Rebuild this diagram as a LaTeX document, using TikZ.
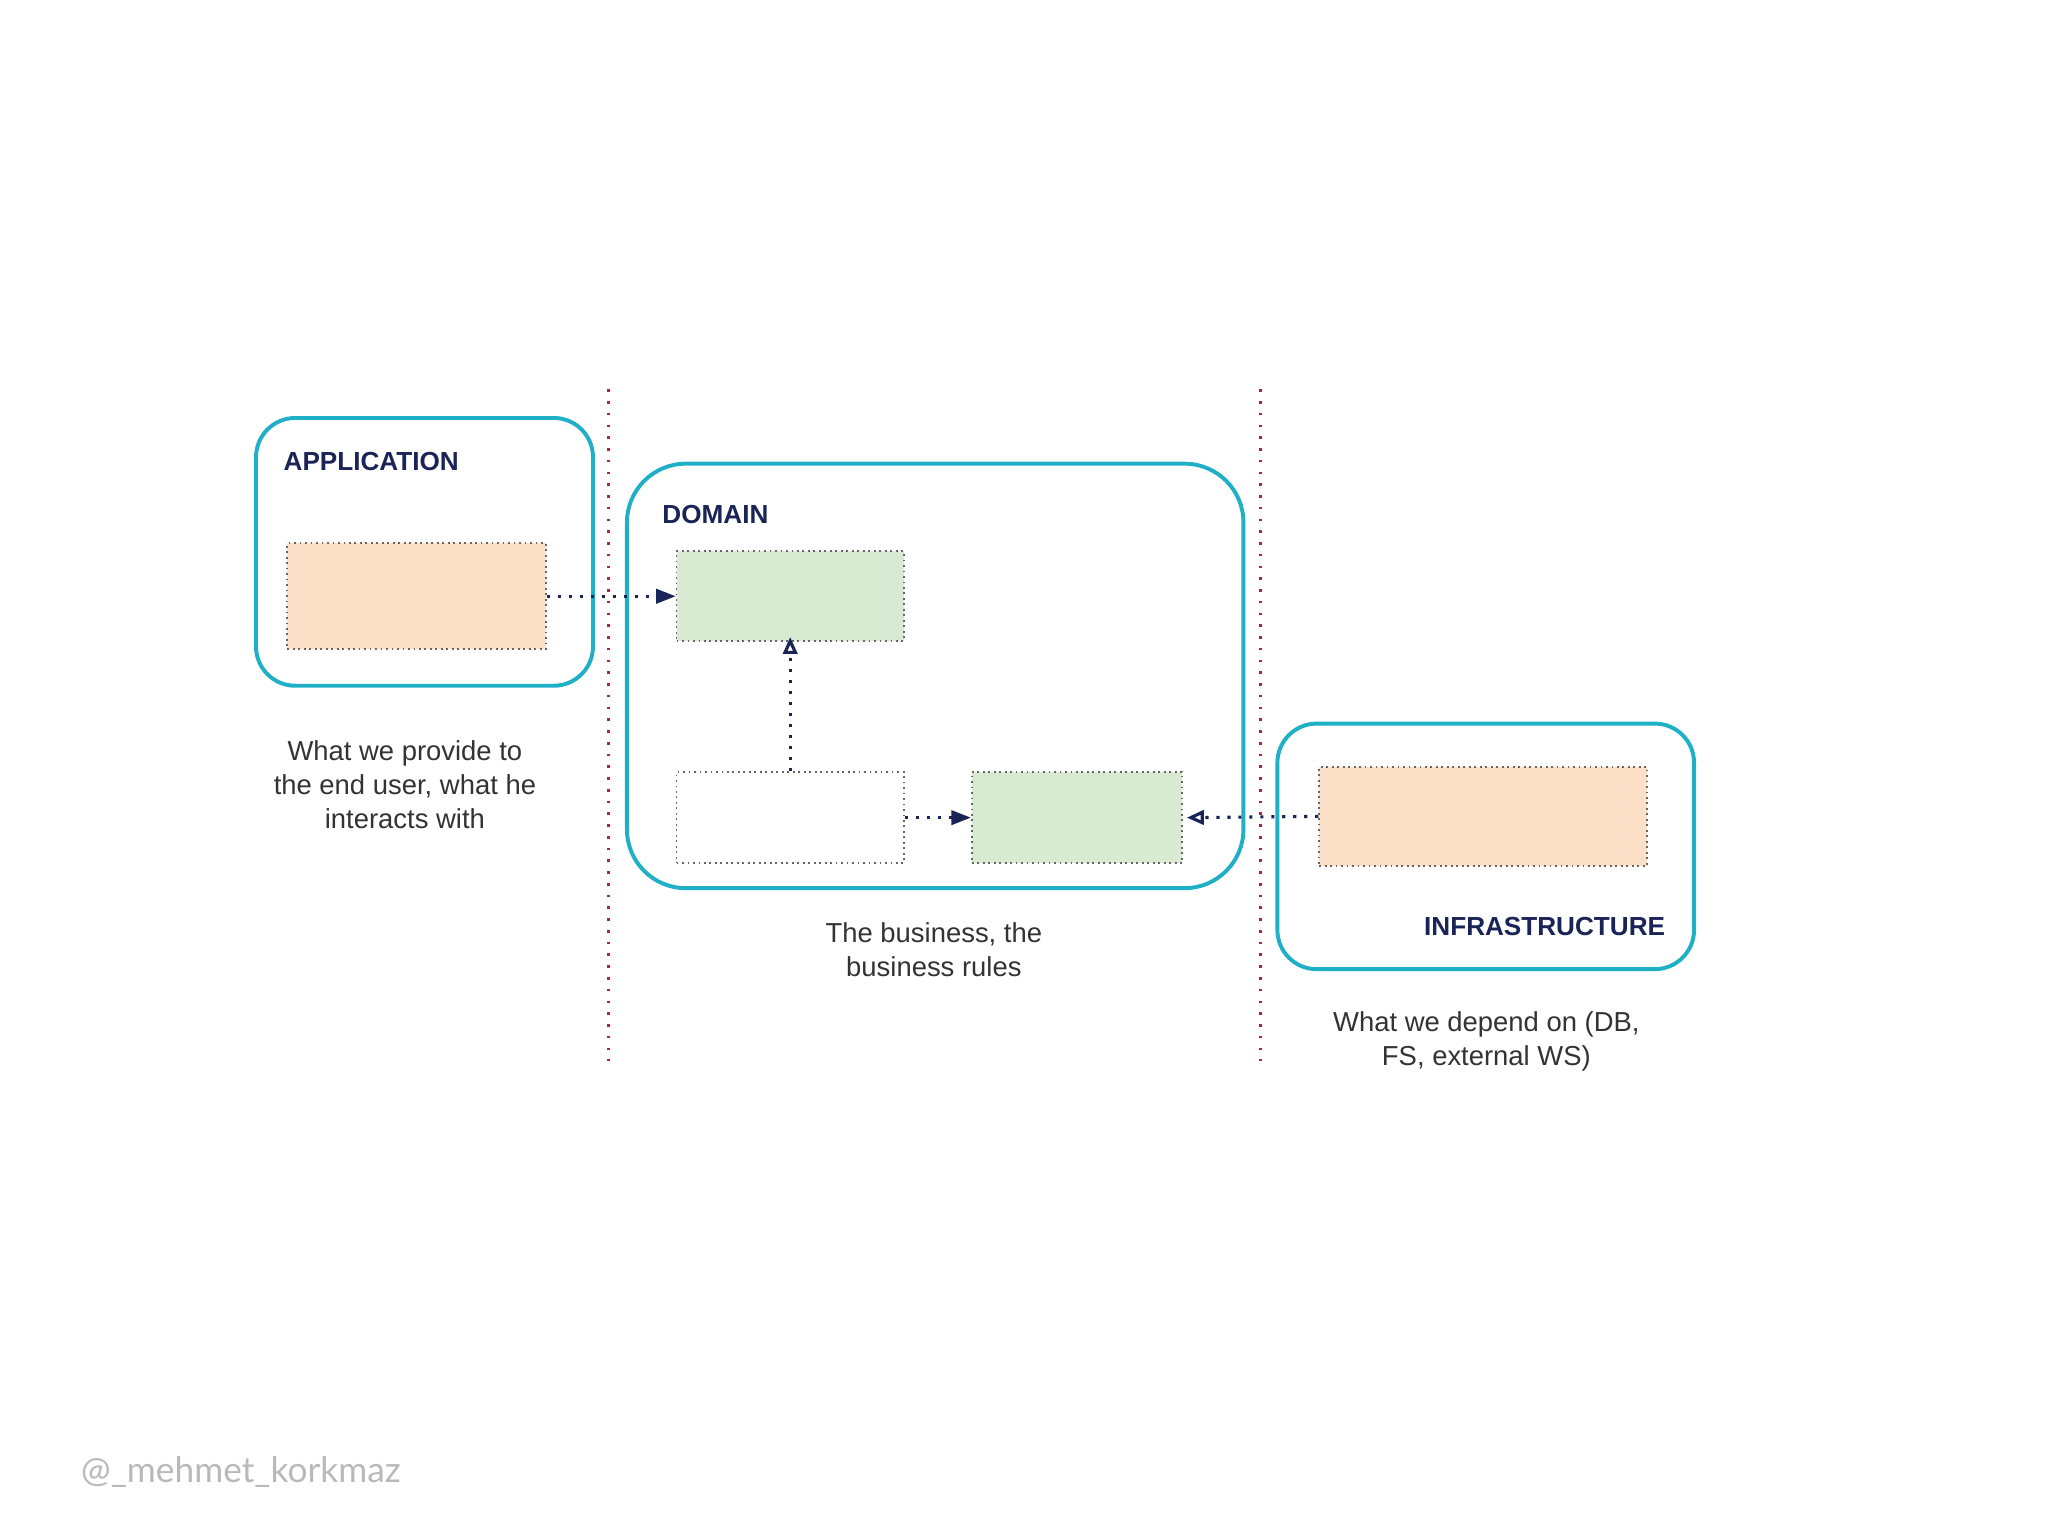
\documentclass[tikz,border=0pt]{standalone}
\usepackage{fontspec}
\setmainfont{Liberation Sans}
\newfontfamily\wmfont{Lato}
\usetikzlibrary{arrows.meta}
\definecolor{cyanb}{HTML}{1FB0C8}
\definecolor{navy}{HTML}{1A2456}
\definecolor{peach}{HTML}{FBDFC6}
\definecolor{greenf}{HTML}{D9EAD3}
\definecolor{redd}{HTML}{B0243A}
\definecolor{txt}{HTML}{333333}
\begin{document}
\begin{tikzpicture}[x=1pt,y=-1pt,
  layer/.style={draw=cyanb,line width=3pt},
  inner/.style={draw=gray!80!black,line width=1.4pt,dash pattern=on 1.4pt off 2.8pt},
  conn/.style={draw=navy,line width=2.4pt,dash pattern=on 2.4pt off 6pt},
  fillhead/.style={-{Triangle[length=15pt,width=11pt]}},
  openhead/.style={-{Triangle[open,length=13pt,width=11pt,line width=2.4pt]}},
  title/.style={font=\fontsize{20}{22}\selectfont\bfseries,text=navy,anchor=west,inner sep=0},
  desc/.style={font=\fontsize{21}{26}\selectfont,text=txt,align=center},
  sep/.style={draw=redd,line width=2pt,dash pattern=on 2pt off 7pt}]
\useasboundingbox[fill=white] (0,0) rectangle (1568,1176);
% separators
\coordinate (s1a) at (466,298); \coordinate (s1b) at (466,812);
\coordinate (s2a) at (965,298); \coordinate (s2b) at (965,812);
\draw[sep] (s1a) -- (s1b);
\draw[sep] (s2a) -- (s2b);
% layers
\draw[layer,rounded corners=30pt,fill=white] (196,320) rectangle (454,525);
\draw[layer,rounded corners=45pt,fill=white] (480,355) rectangle (952,680);
\draw[layer,rounded corners=30pt,fill=white] (978,554) rectangle (1297,742);
\node[title] (app) at (217,353) {APPLICATION};
\node[title] (dom) at (507,394) {DOMAIN};
\node[title,anchor=east] (inf) at (1275,709) {INFRASTRUCTURE};
% inner boxes
\node[inner,fill=peach,minimum width=198pt,minimum height=81pt,inner sep=0] (ap) at (319,456.5) {};
\node[inner,fill=greenf,minimum width=174pt,minimum height=69pt,inner sep=0] (g1) at (605,456.5) {};
\node[inner,fill=white,minimum width=174pt,minimum height=70pt,inner sep=0] (w) at (605,626) {};
\node[inner,fill=greenf,minimum width=161pt,minimum height=70pt,inner sep=0] (g2) at (824.5,626) {};
\node[inner,fill=peach,minimum width=251pt,minimum height=76pt,inner sep=0] (ip) at (1135.5,625) {};
% connectors
\draw[conn,fillhead] (ap.east) -- (g1.west);
\draw[conn,openhead] (w.north) -- ([yshift=4pt]g1.south);
\draw[conn,fillhead] (w.east) -- (g2.west);
\draw[conn,openhead] (ip.west) -- ([xshift=3pt]g2.east);
% descriptions
\node[desc] (d1) at (310,601) {What we provide to\\the end user, what he\\interacts with};
\node[desc] (d2) at (715,727) {The business, the\\business rules};
\node[desc] (d3) at (1138,797) {What we depend on (DB,\\FS, external WS)};
\node[font=\wmfont\fontsize{27}{30}\selectfont,text=gray!55,anchor=west,inner sep=0] (wm) at (62,1127) {@\_mehmet\_korkmaz};
\end{tikzpicture}
\end{document}
